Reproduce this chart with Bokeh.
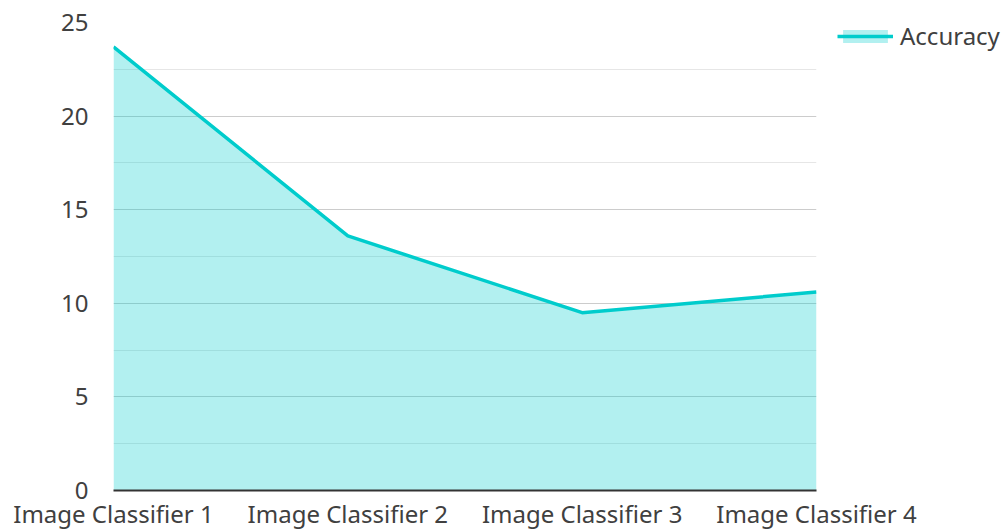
from bokeh.plotting import figure
from bokeh.models import FixedTicker, Range1d, Legend, LegendItem, ColumnDataSource
from bokeh.embed import file_html
from bokeh.resources import INLINE

categories = ["Image Classifier 1", "Image Classifier 2", "Image Classifier 3", "Image Classifier 4"]
accuracy = [23.7, 13.6, 9.5, 10.6]
y_ticks = [0, 5, 10, 15, 20, 25]
y_minor = [2.5, 7.5, 12.5, 17.5, 22.5]

xs = list(range(len(categories)))
src = ColumnDataSource(dict(x=xs, y=accuracy, y0=[0] * len(xs)))

FONT = "Noto Sans"
TXT = "#404040"
FS = "24px"

p = figure(frame_width=703, frame_height=468, output_backend="svg", toolbar_location=None,
           x_range=Range1d(0, len(categories) - 1), y_range=Range1d(0, 25),
           min_border_left=113, min_border_right=189, min_border_top=22, min_border_bottom=41)
p.outline_line_color = None

area = p.varea(x="x", y1="y0", y2="y", source=src, fill_color="#00cccc", fill_alpha=0.3)
line = p.line(x="x", y="y", source=src, line_color="#00cccc", line_width=3.5)

p.xgrid.visible = False
p.ygrid.ticker = FixedTicker(ticks=y_ticks, minor_ticks=y_minor)
p.ygrid.grid_line_color = "#cccccc"
p.ygrid.grid_line_width = 1
p.ygrid.minor_grid_line_color = "#e6e6e6"

p.yaxis.ticker = FixedTicker(ticks=y_ticks)
p.yaxis.axis_line_color = None
p.yaxis.major_tick_line_color = None
p.yaxis.minor_tick_line_color = None
p.yaxis.major_tick_out = 0
p.yaxis.major_tick_in = 0
p.yaxis.minor_tick_out = 0
p.yaxis.major_label_standoff = 25
p.yaxis.major_label_text_font = FONT
p.yaxis.major_label_text_font_size = FS
p.yaxis.major_label_text_color = TXT

p.xaxis.ticker = FixedTicker(ticks=xs)
p.xaxis.major_label_overrides = {i: c for i, c in enumerate(categories)}
p.xaxis.axis_line_color = "#333333"
p.xaxis.axis_line_width = 2
p.xaxis.major_tick_line_color = None
p.xaxis.minor_tick_line_color = None
p.xaxis.major_tick_out = 0
p.xaxis.major_tick_in = 0
p.xaxis.minor_tick_out = 0
p.xaxis.major_label_standoff = 6
p.xaxis.major_label_text_font = FONT
p.xaxis.major_label_text_font_size = FS
p.xaxis.major_label_text_color = TXT

legend = Legend(items=[LegendItem(label="Accuracy", renderers=[area, line])],
                location=(21, 438), glyph_width=56, glyph_height=16,
                padding=0, margin=0, label_standoff=7,
                label_text_font=FONT, label_text_font_size=FS, label_text_color=TXT,
                border_line_color=None, background_fill_alpha=0)
p.add_layout(legend, "right")

open("out.html", "w").write(file_html(p, INLINE))
